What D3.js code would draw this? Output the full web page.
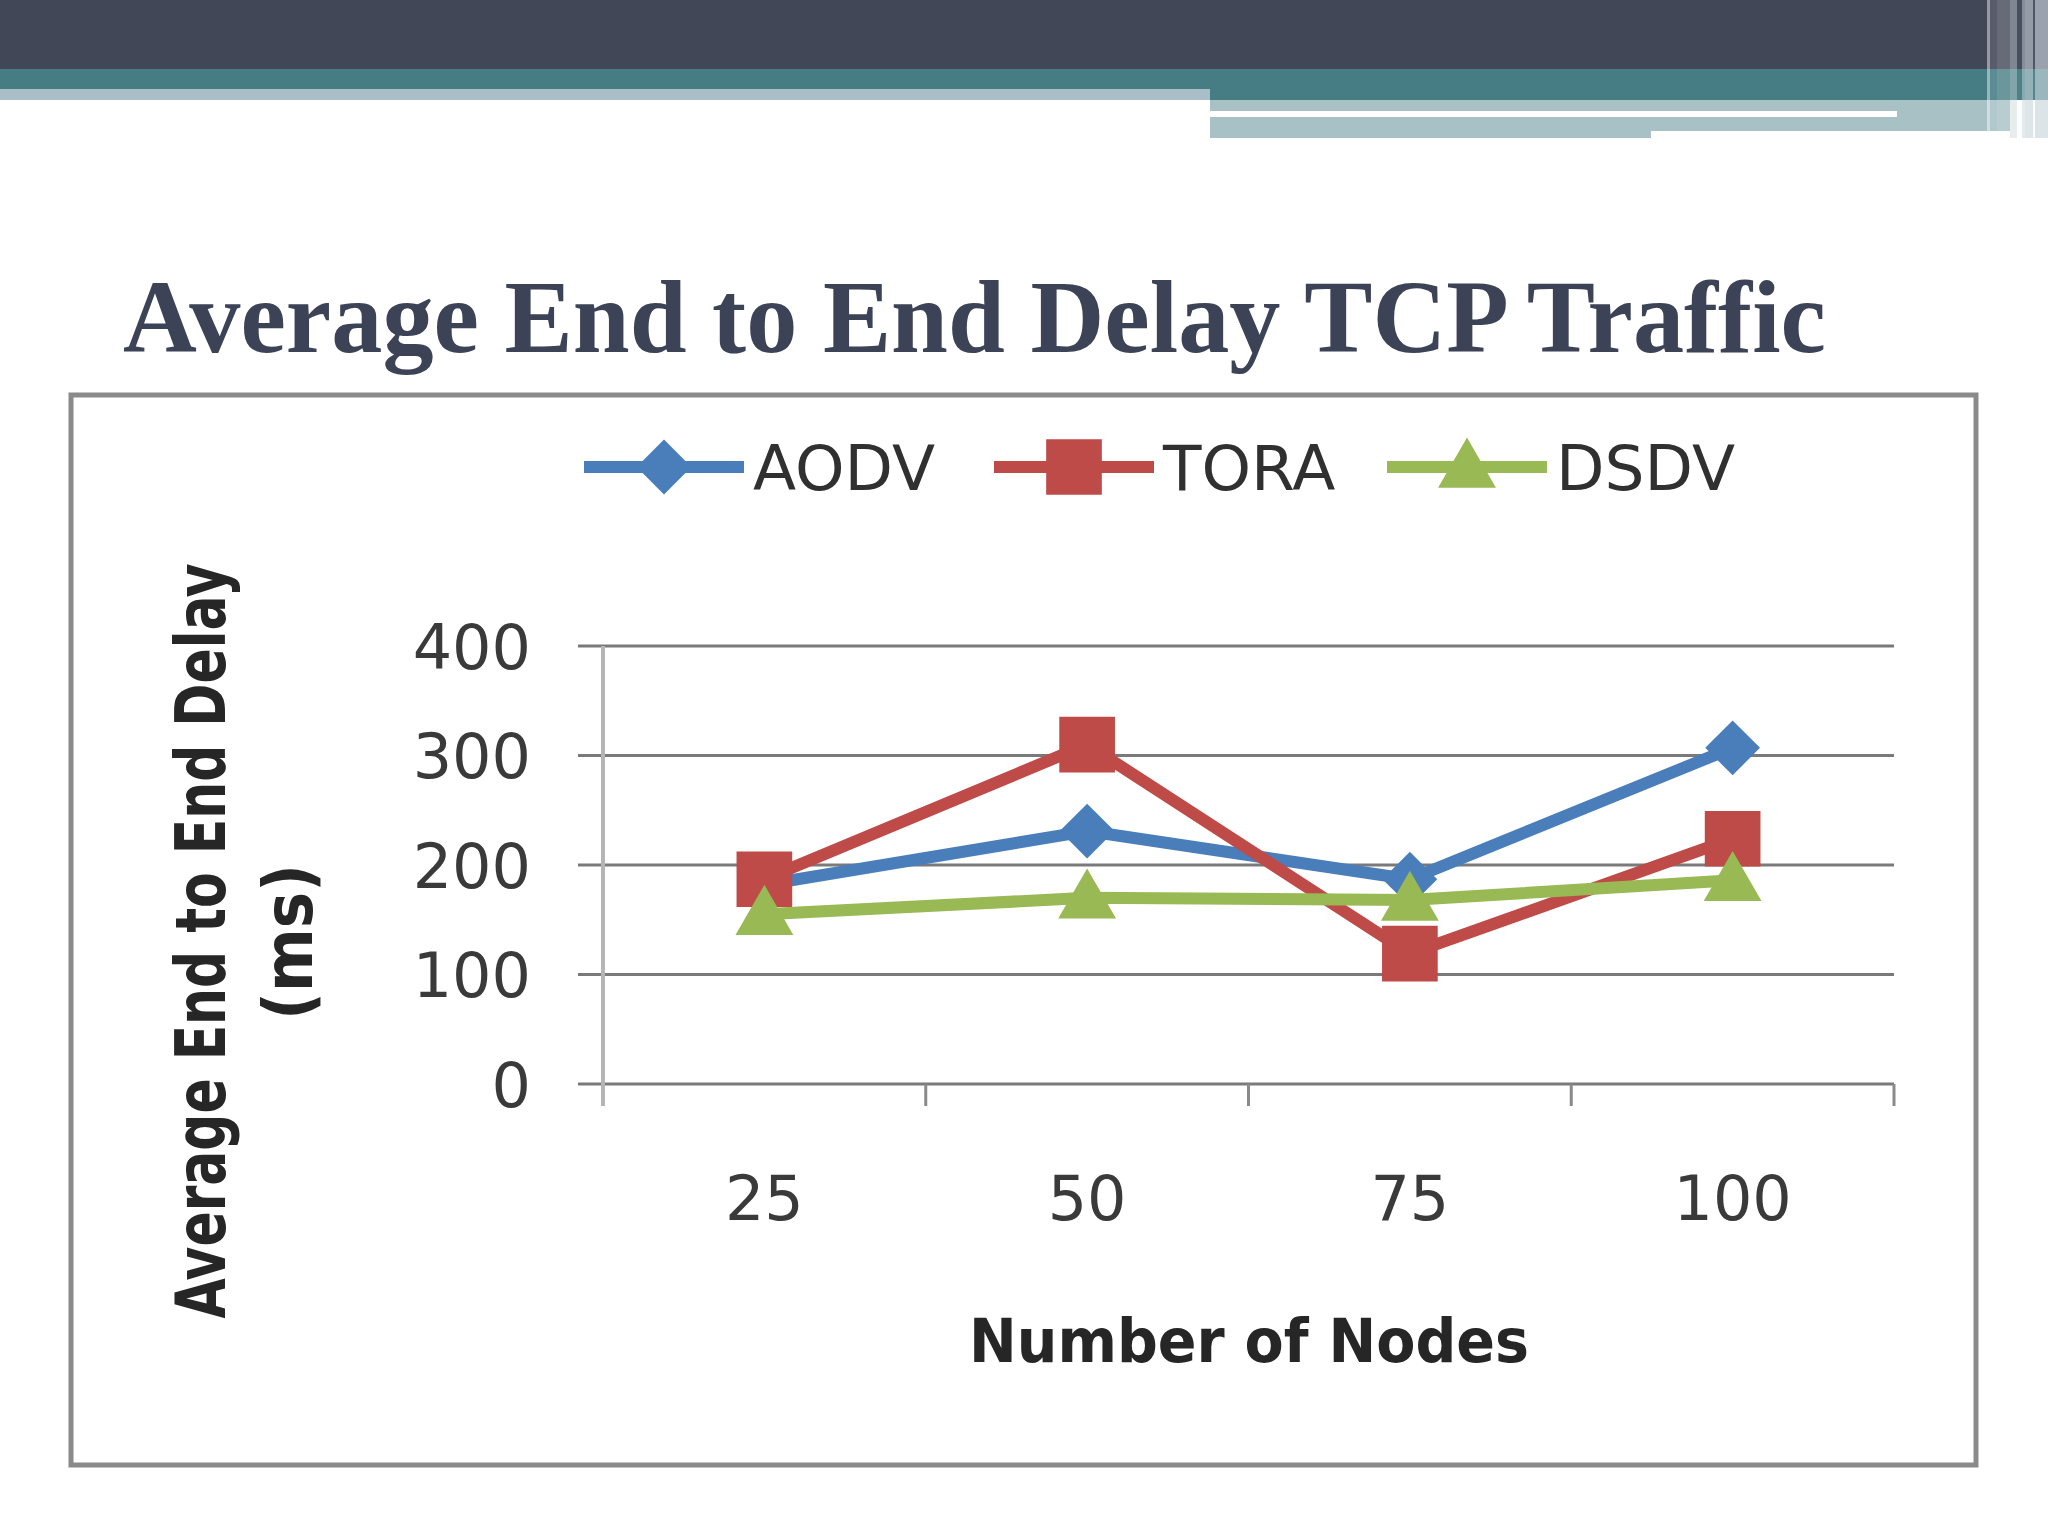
<!DOCTYPE html>
<html>
<head>
<meta charset="utf-8">
<script src="https://cdn.jsdelivr.net/npm/d3@7"></script>
<style>
  body { margin: 0; background: #fff; }
  svg { display: block; }
</style>
</head>
<body>
<script>
// chart values
const categories = ['25', '50', '75', '100'];
const seriesNames = ['AODV', 'TORA', 'DSDV'];
const aodv = [182, 231, 187, 307];
const tora = [187, 310, 119, 224];
const dsdv = [155, 170, 168, 186];
const yTicks = [0, 100, 200, 300, 400];

const width = 2048;
const height = 1536;

const colors = ['#4a7ebb', '#be4b48', '#98b954'];
const symbols = ['diamond', 'square', 'triangle'];
const series = [aodv, tora, dsdv];

const svg = d3.select('body')
  .append('svg')
  .attr('width', width)
  .attr('height', height);

// slide header bars
const header = svg.append('g');
header.append('rect').attr('x', 0).attr('y', 0).attr('width', width).attr('height', 69).attr('fill', '#424757');
header.append('rect').attr('x', 0).attr('y', 69).attr('width', 1210).attr('height', 20).attr('fill', '#467d84');
header.append('rect').attr('x', 0).attr('y', 89).attr('width', 1210).attr('height', 11).attr('fill', '#a8bfc8');
header.append('rect').attr('x', 1210).attr('y', 69).attr('width', 838).attr('height', 31).attr('fill', '#467d84');
header.append('rect').attr('x', 1210).attr('y', 100).attr('width', 800).attr('height', 31).attr('fill', '#a7c1c5');
header.append('rect').attr('x', 1210).attr('y', 131).attr('width', 441).attr('height', 7).attr('fill', '#a7c1c5');
header.append('rect').attr('x', 1210).attr('y', 111).attr('width', 687).attr('height', 6).attr('fill', '#ffffff');
// thin stripes at the right edge
const stripes = [
  [1987, 3, 0.45, 131], [1990, 7, 0.12, 131], [1997, 13, 0.2, 131],
  [2010, 7, 0.45, 138], [2017, 5, 0.05, 138], [2022, 3, 0.5, 138],
  [2025, 8, 0.6, 138], [2033, 2, 0.1, 138], [2035, 13, 0.65, 138]
];
stripes.forEach(s => {
  header.append('rect').attr('x', s[0]).attr('y', 0).attr('width', s[1]).attr('height', s[3])
    .attr('fill', s[3] > 131 ? '#c9d6dc' : '#ffffff').attr('opacity', s[2]);
});

// slide title
svg.append('text')
  .attr('x', 123)
  .attr('y', 352)
  .attr('textLength', 1703)
  .attr('lengthAdjust', 'spacingAndGlyphs')
  .style('font-family', '"Liberation Serif", "DejaVu Serif", serif')
  .style('font-weight', 'bold')
  .style('font-size', '104px')
  .style('fill', '#3d4357')
  .text('Average End to End Delay TCP Traffic');

// chart frame
svg.append('rect')
  .attr('x', 71).attr('y', 395)
  .attr('width', 1905).attr('height', 1070)
  .attr('fill', '#ffffff')
  .attr('stroke', '#8a8a8a')
  .attr('stroke-width', 5);

const xScale = d3.scaleBand()
  .domain(categories)
  .range([603, 1894]);

const yScale = d3.scaleLinear()
  .domain([0, 400])
  .range([1084, 646]);

const textFont = '"DejaVu Sans", sans-serif';

// gridlines
svg.append('g')
  .selectAll('line')
  .data(yTicks)
  .enter()
  .append('line')
  .attr('x1', 578)
  .attr('x2', 1894)
  .attr('y1', d => yScale(d))
  .attr('y2', d => yScale(d))
  .attr('stroke', '#7a7a7a')
  .attr('stroke-width', 3);

// y axis line
svg.append('line')
  .attr('x1', xScale.range()[0]).attr('x2', xScale.range()[0])
  .attr('y1', yScale(400)).attr('y2', yScale(0) + 22)
  .attr('stroke', '#b5b5b5')
  .attr('stroke-width', 4);

// x axis boundary ticks
const bounds = categories.map(c => xScale(c)).concat([xScale.range()[1]]);
svg.append('g')
  .selectAll('line')
  .data(bounds)
  .enter()
  .append('line')
  .attr('x1', d => d).attr('x2', d => d)
  .attr('y1', yScale(0)).attr('y2', yScale(0) + 22)
  .attr('stroke', (d, i) => i === 0 ? '#b5b5b5' : '#8a8a8a')
  .attr('stroke-width', 3);

// y tick labels
const yAxis = d3.axisLeft(yScale)
  .tickValues(yTicks)
  .tickSize(0)
  .tickPadding(0)
  .tickFormat(d3.format('d'));

const yAxisG = svg.append('g')
  .attr('transform', 'translate(531, 0)')
  .call(yAxis);
yAxisG.select('.domain').remove();
yAxisG.selectAll('text')
  .attr('x', 0)
  .attr('dy', '0.36em')
  .style('font-family', textFont)
  .style('font-size', '62px')
  .style('fill', '#3a3a3a');

// x tick labels
const xAxis = d3.axisBottom(xScale).tickSize(0).tickPadding(0);
const xAxisG = svg.append('g')
  .attr('transform', 'translate(0, 1220)')
  .call(xAxis);
xAxisG.select('.domain').remove();
xAxisG.selectAll('text')
  .attr('y', 0)
  .attr('dy', 0)
  .style('font-family', textFont)
  .style('font-size', '62px')
  .style('fill', '#3a3a3a');

// axis titles
svg.append('text')
  .attr('transform', 'translate(225, 941) rotate(-90)')
  .attr('text-anchor', 'middle')
  .attr('textLength', 755)
  .attr('lengthAdjust', 'spacingAndGlyphs')
  .style('font-family', '"DejaVu Sans Condensed", "DejaVu Sans", sans-serif')
  .style('font-weight', 'bold')
  .style('font-size', '70px')
  .style('fill', '#262626')
  .text('Average End to End Delay');

svg.append('text')
  .attr('transform', 'translate(312, 942) rotate(-90)')
  .attr('text-anchor', 'middle')
  .style('font-family', '"DejaVu Sans Condensed", "DejaVu Sans", sans-serif')
  .style('font-weight', 'bold')
  .style('font-size', '68px')
  .style('fill', '#262626')
  .text('(ms)');

svg.append('text')
  .attr('x', 1249)
  .attr('y', 1362)
  .attr('text-anchor', 'middle')
  .attr('textLength', 560)
  .attr('lengthAdjust', 'spacingAndGlyphs')
  .style('font-family', '"DejaVu Sans Condensed", "DejaVu Sans", sans-serif')
  .style('font-weight', 'bold')
  .style('font-size', '61px')
  .style('fill', '#262626')
  .text('Number of Nodes');

// marker shapes
function markerPath(kind) {
  if (kind === 'diamond') return d3.symbol().type(d3.symbolSquare).size(1500)();
  if (kind === 'square') return d3.symbol().type(d3.symbolSquare).size(3100)();
  return d3.symbol().type(d3.symbolTriangle).size(1450)();
}
function markerTransform(kind, x, y) {
  if (kind === 'diamond') return 'translate(' + x + ',' + y + ') rotate(45)';
  if (kind === 'triangle') return 'translate(' + x + ',' + (y + 4) + ')';
  return 'translate(' + x + ',' + y + ')';
}

const line = d3.line()
  .x((d, i) => xScale(categories[i]) + xScale.bandwidth() / 2)
  .y(d => yScale(d));

series.forEach((values, s) => {
  const g = svg.append('g');
  g.append('path')
    .datum(values)
    .attr('d', line)
    .attr('fill', 'none')
    .attr('stroke', colors[s])
    .attr('stroke-width', 12)
    .attr('stroke-linejoin', 'round');
  g.selectAll('path.marker')
    .data(values)
    .enter()
    .append('path')
    .attr('class', 'marker')
    .attr('d', markerPath(symbols[s]))
    .attr('transform', (d, i) => markerTransform(symbols[s], xScale(categories[i]) + xScale.bandwidth() / 2, yScale(d)))
    .attr('fill', colors[s]);
});

// legend
const legendX = [584, 994, 1387];
const legend = svg.append('g');
seriesNames.forEach((name, s) => {
  const item = legend.append('g').attr('transform', 'translate(' + legendX[s] + ', 467)');
  item.append('line')
    .attr('x1', 0).attr('x2', 160)
    .attr('y1', 0).attr('y2', 0)
    .attr('stroke', colors[s])
    .attr('stroke-width', 12);
  item.append('path')
    .attr('d', markerPath(symbols[s]))
    .attr('transform', markerTransform(symbols[s], 80, 0))
    .attr('fill', colors[s]);
  item.append('text')
    .attr('x', 169)
    .attr('y', 23)
    .style('font-family', textFont)
    .style('font-size', '63px')
    .style('fill', '#303030')
    .text(name);
});
</script>
</body>
</html>
